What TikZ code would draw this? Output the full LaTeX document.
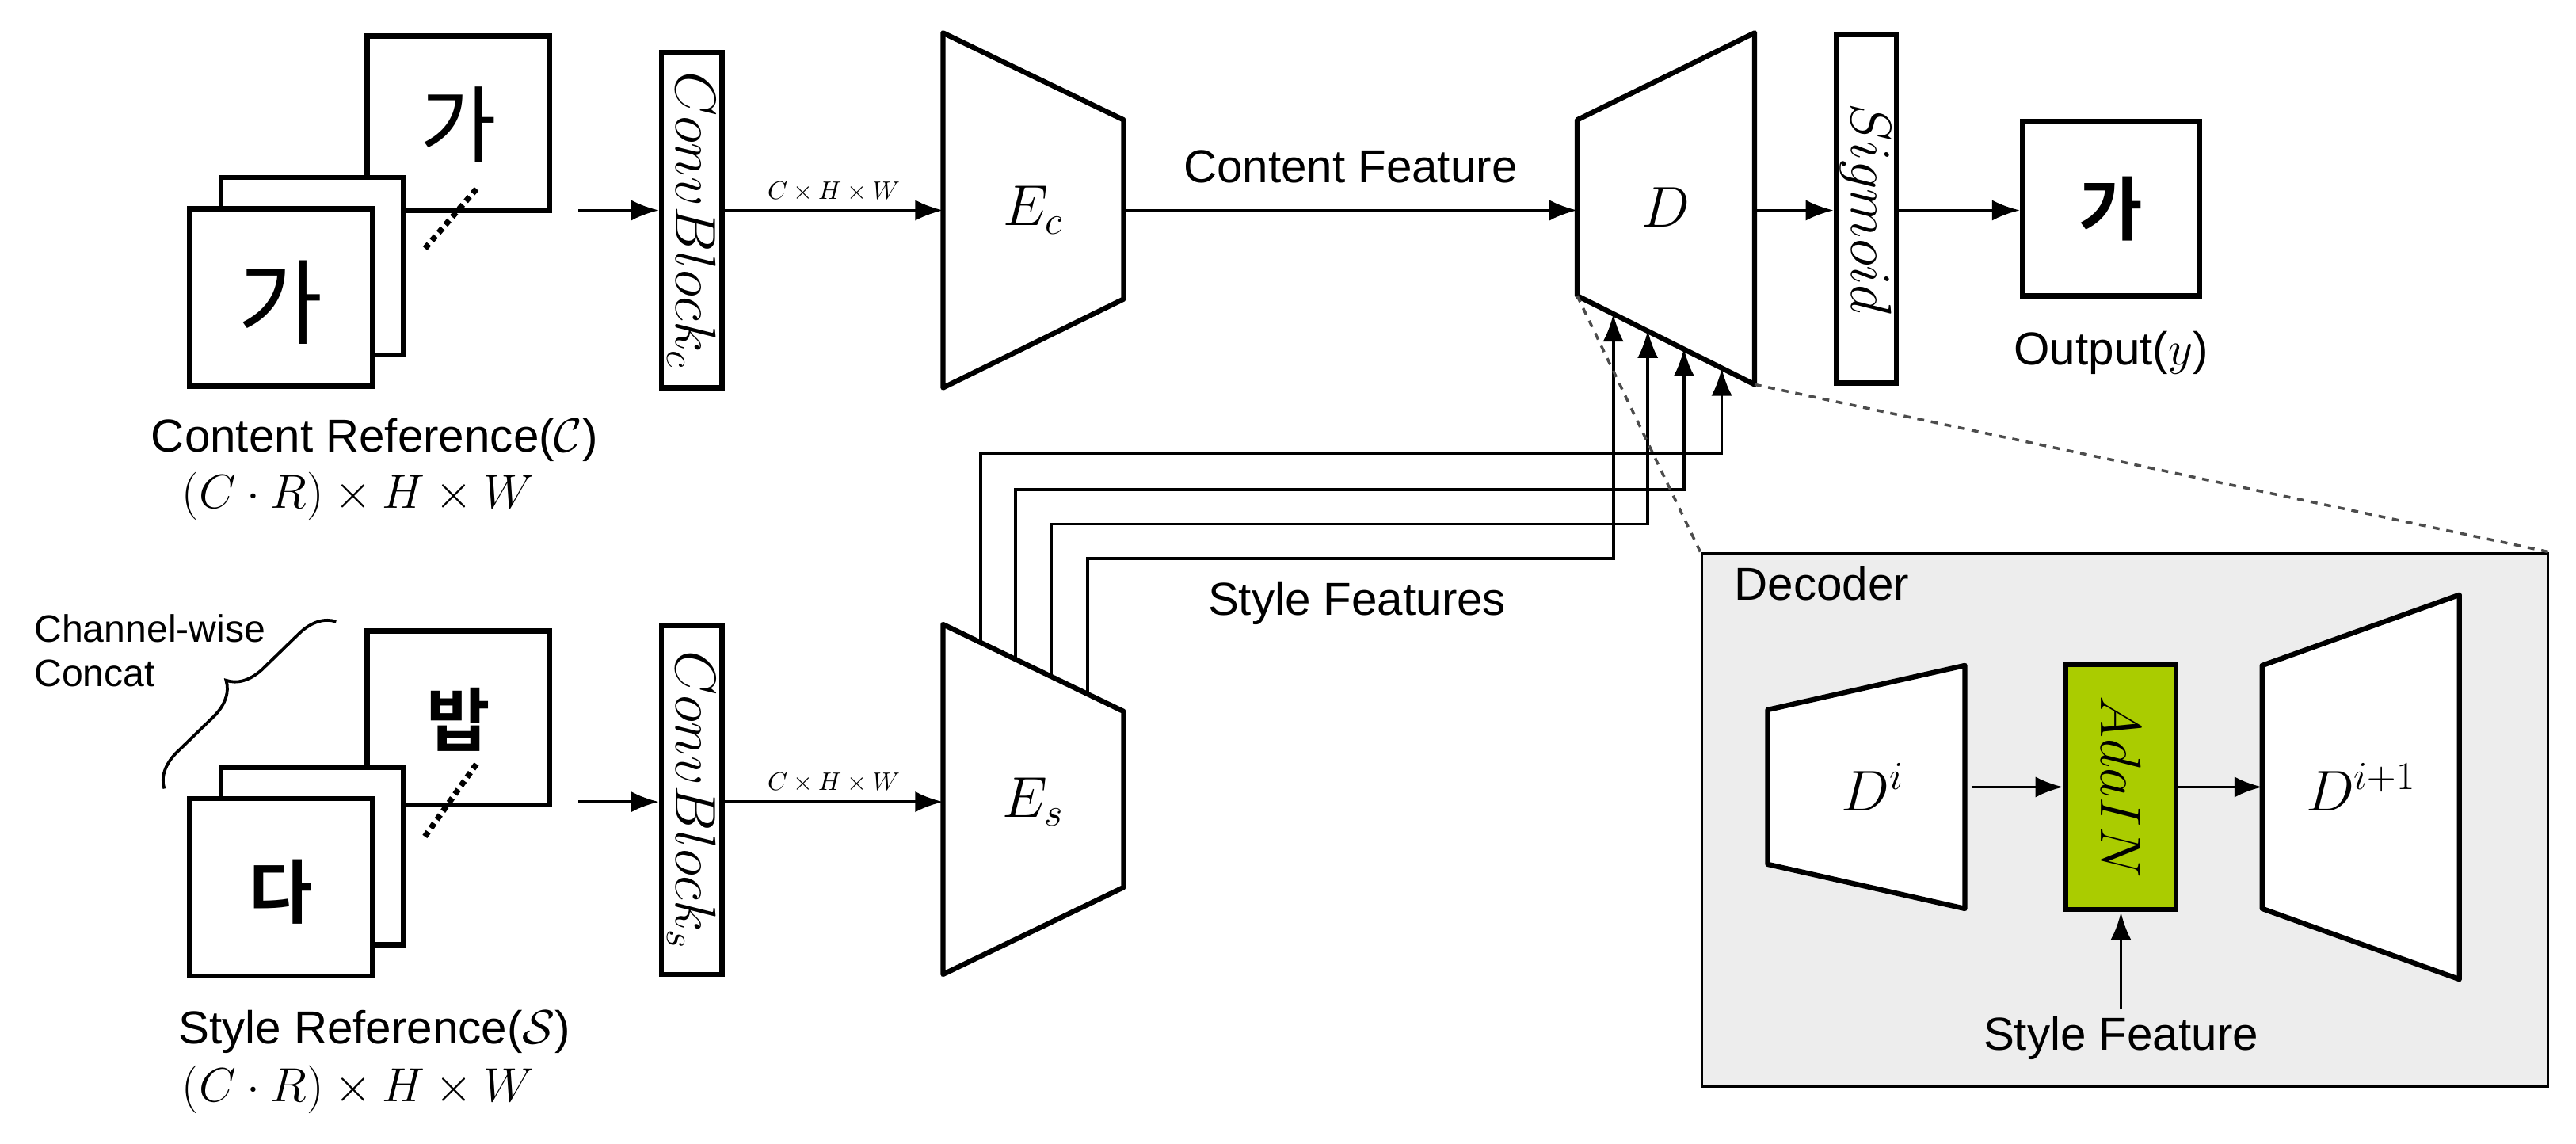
\documentclass[tikz,border=0pt]{standalone}
\usepackage{fontspec}
\usepackage{amsmath}
\setmainfont{Liberation Sans}
\newfontfamily\kor{Noto Sans CJK KR}
\newfontfamily\korb{Noto Sans CJK KR}[BoldFont={* Bold}]
\usetikzlibrary{arrows.meta,positioning,decorations.pathreplacing}
\definecolor{adagreen}{RGB}{170,204,0}
\tikzset{
  blk/.style={draw,line width=2.2pt,fill=white},
  card/.style={blk,minimum width=2.7cm,minimum height=2.6cm},
  trap/.style={line width=2.2pt,line join=round,fill=white},
  conn/.style={line width=1.3pt,-{Latex[length=12pt,width=9pt]}},
  lbl/.style={font=\fontsize{20}{23}\selectfont,inner sep=1pt},
  dim/.style={font=\fontsize{10.5}{12}\selectfont},
  mth/.style={font=\fontsize{26}{28}\selectfont},
  rot/.style={rotate=-90,font=\fontsize{23}{24}\selectfont}
}
\begin{document}
\begin{tikzpicture}[x=0.025cm,y=-0.025cm]
\useasboundingbox (0,0) rectangle (1568,696);
% content references
\node[card,minimum width=2.78cm,minimum height=2.65cm] (cb) at (279,75) {};
\node[card,minimum width=2.78cm,minimum height=2.7cm] (cm) at (190,162) {};
\node[card,minimum width=2.78cm,minimum height=2.7cm] (cf) at (171,181) {};
\node[font=\kor\fontsize{36}{36}\selectfont] at (279,76) {가};
\node[font=\kor\fontsize{40}{40}\selectfont] at (171,184) {가};
\draw[line width=2.5pt,dotted] (290,115) -- (258,152);
\node[lbl] (clab) at (228,268) {Content Reference($\mathcal{C}$)};
\node[font=\fontsize{20}{22}\selectfont,inner sep=1pt] at (218,302) {$(C\cdot R)\times H\times W$};
% style references
\node[card,minimum width=2.78cm,minimum height=2.65cm] (sb) at (279,437) {};
\node[card,minimum width=2.78cm,minimum height=2.7cm] (sm) at (190,521) {};
\node[card,minimum width=2.78cm,minimum height=2.7cm] (sf) at (171,540) {};
\node[font=\korb\bfseries\fontsize{30}{30}\selectfont] at (279,438) {밥};
\node[font=\korb\bfseries\fontsize{30}{30}\selectfont] at (171,543) {다};
\draw[line width=2.5pt,dotted] (290,465) -- (258,510);
\node[lbl] (slab) at (228,628) {Style Reference($\mathcal{S}$)};
\node[font=\fontsize{20}{22}\selectfont,inner sep=1pt] at (218,663) {$(C\cdot R)\times H\times W$};
\draw[line width=1.3pt,decorate,
  decoration={brace,amplitude=15pt}] (100,480) -- (205,378);
\node[font=\fontsize{16.5}{19}\selectfont,align=left,anchor=west] (cat) at (16,396) {Channel-wise\\Concat};
% conv blocks
\node[blk,minimum width=0.92cm,minimum height=5.1cm] (convc) at (421,134) {};
\node[rot] at (convc) {$ConvBlock_c$};
\node[blk,minimum width=0.92cm,minimum height=5.3cm] (convs) at (421,487) {};
\node[rot] at (convs) {$ConvBlock_s$};
\coordinate (cin) at (352,128);
\coordinate (sin) at (352,488);
\draw[conn] (cin) -- (convc.west |- cin);
\draw[conn] (sin) -- (convs.west |- sin);
% encoders
\draw[trap] (574,20) -- (684,73) -- (684,182) -- (574,236) -- cycle;
\node[mth] (ec) at (629,128) {$E_c$};
\draw[trap] (574,380) -- (684,433) -- (684,540) -- (574,593) -- cycle;
\node[mth] (es) at (629,488) {$E_s$};
\coordinate (ecin) at (574,128);
\coordinate (esin) at (574,488);
\coordinate (ecout) at (684,128);
\draw[conn] (convc.east |- cin) -- node[dim,above]{$C\times H\times W$} (ecin);
\draw[conn] (convs.east |- sin) -- node[dim,above]{$C\times H\times W$} (esin);
% decoder
\draw[trap] (960,73) -- (1068,20) -- (1068,234) -- (960,180) -- cycle;
\node[mth] (d) at (1014,126) {$D$};
\coordinate (din) at (960,128);
\coordinate (dout) at (1068,128);
\draw[conn] (ecout) -- node[lbl,above=10pt]{Content Feature} (din);
\node[blk,minimum width=0.92cm,minimum height=5.3cm] (sig) at (1136,127) {};
\node[rot] at (sig) {$Sigmoid$};
\draw[conn] (dout) -- (sig.west |- dout);
\node[blk,minimum width=2.7cm,minimum height=2.65cm] (out) at (1285,127) {};
\node[font=\korb\bfseries\fontsize{30}{30}\selectfont] at (out) {가};
\draw[conn] (sig.east |- dout) -- (out.west |- dout);
\node[lbl] (outlab) at (1285,215) {Output($y$)};
% style features
\foreach \n/\sx/\sy/\hy/\tx/\ty in {1/597/391/276/1048/224, 2/618/401/298/1025/212,
                                  3/640/412/319/1003/201, 4/662/422/340/982/191}{
  \coordinate (sf\n) at (\sx,\sy);
  \coordinate (df\n) at (\tx,\ty);
  \draw[conn] (sf\n) |- (\tx,\hy) -- (df\n);
}
\node[lbl] (sflab) at (826,367) {Style Features};
% zoomed decoder
\node[draw,line width=1.2pt,fill=black!7,minimum width=12.875cm,minimum height=8.1cm,anchor=north west] (dec) at (1035,336) {};
\draw[dashed,black!70,line width=1.2pt] (960,180) -- (dec.north west);
\draw[dashed,black!70,line width=1.2pt] (1068,234) -- (dec.north east);
\node[lbl,anchor=west] at (1054,355) {Decoder};
\draw[trap] (1076,432) -- (1196,405) -- (1196,553) -- (1076,526) -- cycle;
\node[mth] (di) at (1140,479) {$D^i$};
\node[blk,fill=adagreen,minimum width=1.68cm,minimum height=3.73cm] (ada) at (1291,479) {};
\node[rot] at (ada) {$AdaIN$};
\draw[trap] (1377,405) -- (1497,362) -- (1497,596) -- (1377,553) -- cycle;
\node[mth] (dj) at (1437,479) {$D^{i+1}$};
\draw[conn] (1200,479) -- (ada.west);
\draw[conn] (ada.east) -- (1377,479);
\node[lbl] (sfone) at (1291,632) {Style Feature};
\draw[conn] ([yshift=2pt]sfone.north -| ada) -- (ada.south);
\end{tikzpicture}
\end{document}
